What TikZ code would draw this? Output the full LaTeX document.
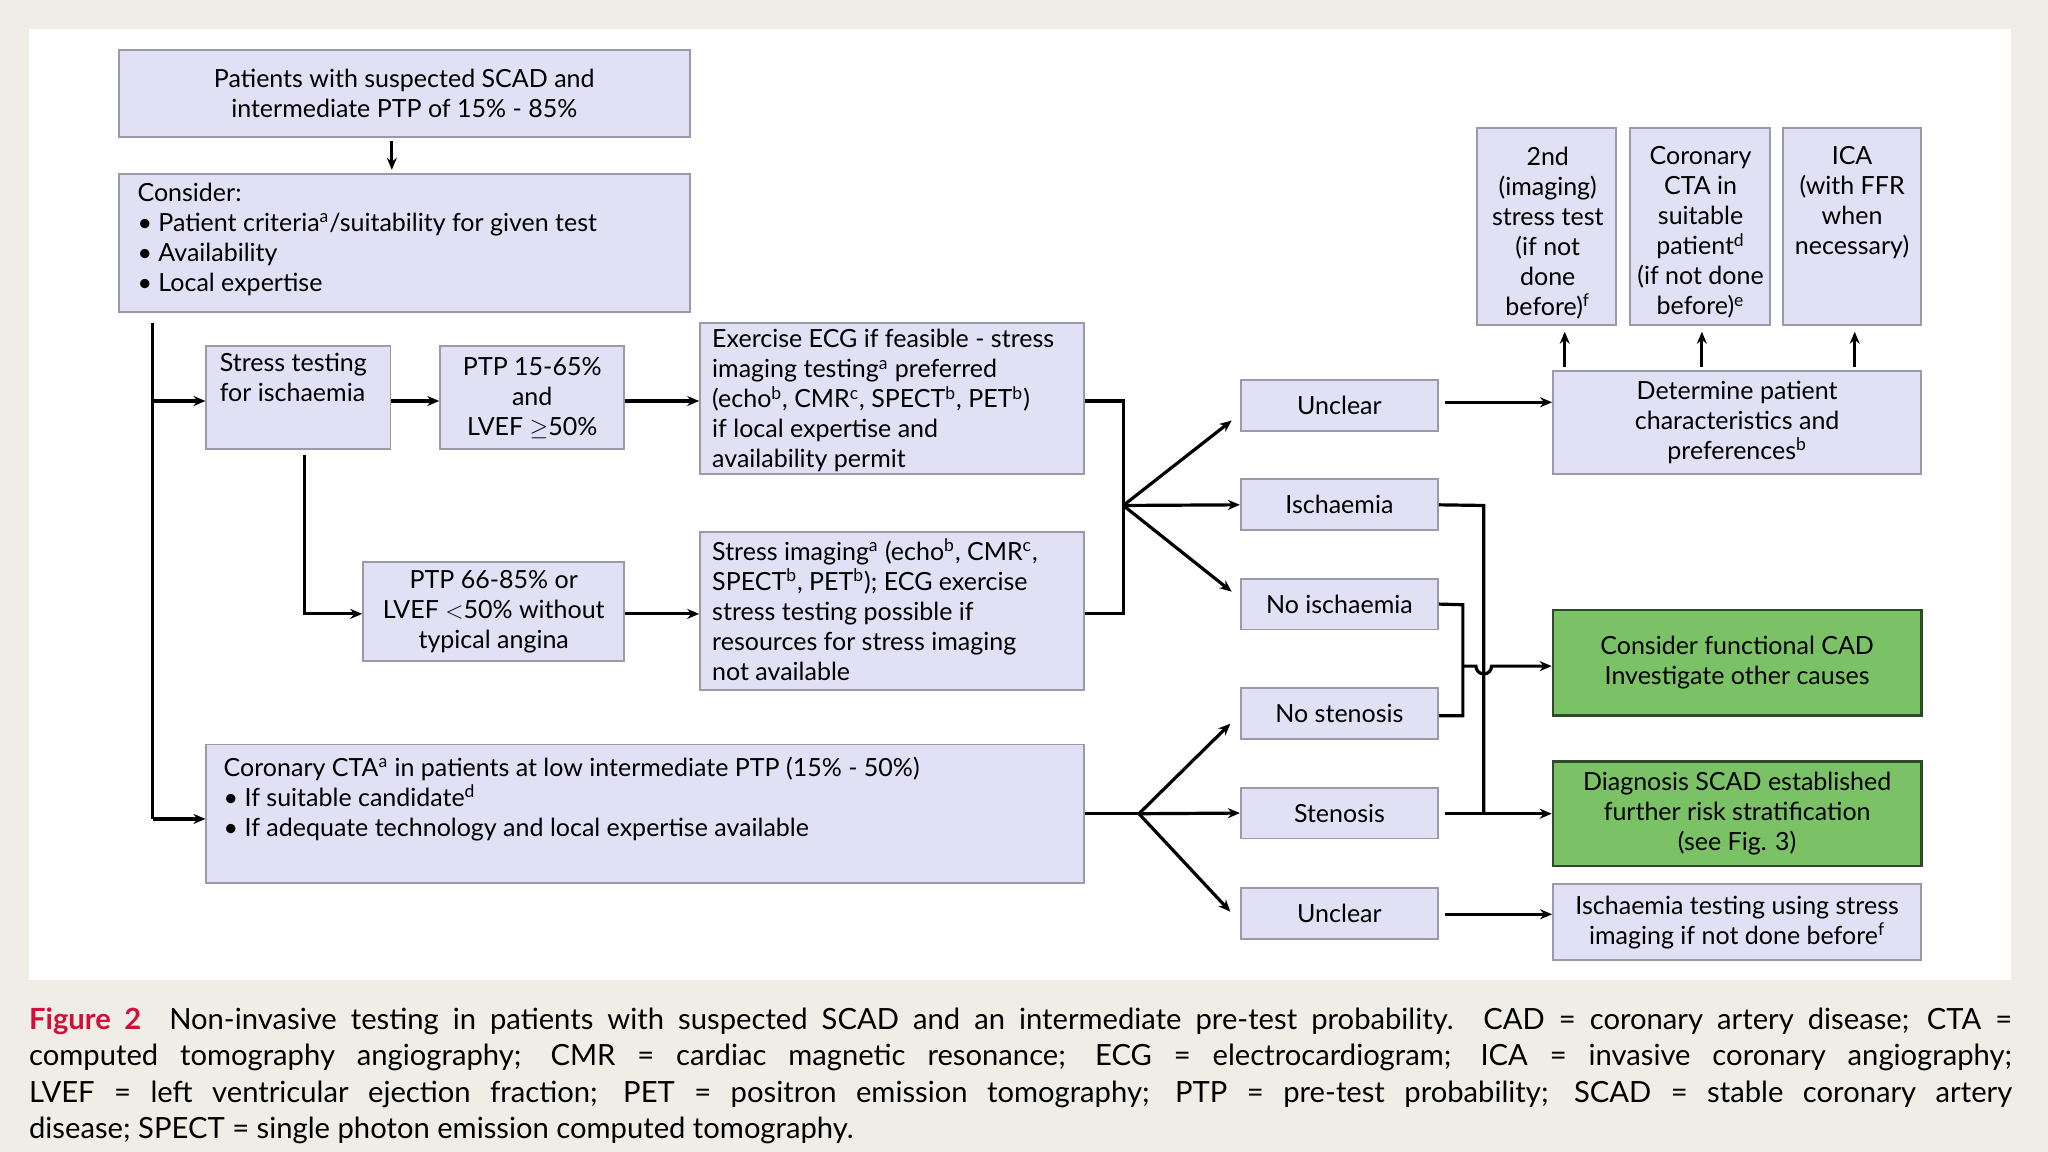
\documentclass[tikz,border=0pt]{standalone}
\usepackage{fontspec}
\setmainfont{Lato}
\usetikzlibrary{fit,arrows.meta}
\definecolor{bg}{HTML}{F0EDE6}
\definecolor{lav}{HTML}{E2E0F4}
\definecolor{lavb}{HTML}{9C9AAA}
\definecolor{grn}{HTML}{7BC267}
\definecolor{grnb}{HTML}{2E4A2A}
\definecolor{fig}{HTML}{D0103A}
\begin{document}
\begin{tikzpicture}[x=0.6531pt,y=-0.6531pt,
  box/.style={draw=lavb,fill=lav,line width=0.9pt,inner sep=0pt},
  gbox/.style={box,draw=grnb,fill=grn,line width=1.3pt},
  txt/.style={inner sep=0pt,align=left,font=\fontsize{12.5}{15}\selectfont},
  ctxt/.style={txt,align=center},
  ar/.style={line width=1.6pt,-{Stealth[length=6pt,width=5pt]}},
  ln/.style={line width=1.6pt}]
\useasboundingbox (0,0) rectangle (1568,882);
\fill[bg] (0,0) rectangle (1568,882);
\fill[white] (22,22) rectangle (1540,750);
% left column
\node[box,fit={(91,38)(528,105)}] (p) {};
\node[ctxt] (pt) at (p.center) {Patients with suspected SCAD and\\intermediate PTP of 15\% - 85\%};
\node[box,fit={(91,133)(528,239)}] (c) {};
\node[txt,anchor=north west] (ct) at (105,140) {Consider:\\\textbullet\ Patient criteria\textsuperscript{a}/suitability for given test\\\textbullet\ Availability\\\textbullet\ Local expertise};
\draw[ar] (300,108) -- (300,130);
\node[box,fit={(158,265)(299,344)}] (st) {};
\node[txt,anchor=north west] (stt) at (168,270) {Stress testing\\for ischaemia};
\node[box,fit={(337,265)(478,344)}] (p1) {};
\node[ctxt] (p1t) at (p1.center) {PTP 15-65\%\\and\\LVEF $\geq$50\%};
\node[box,fit={(536,247)(830,363)}] (ex) {};
\node[txt,anchor=north west] (ext) at (545,252) {Exercise ECG if feasible - stress\\imaging testing\textsuperscript{a} preferred\\(echo\textsuperscript{b}, CMR\textsuperscript{c}, SPECT\textsuperscript{b}, PET\textsuperscript{b})\\if local expertise and\\availability permit};
\node[box,fit={(278,430)(478,506)}] (p2) {};
\node[ctxt] (p2t) at (p2.center) {PTP 66-85\% or\\LVEF $<$50\% without\\typical angina};
\node[box,fit={(536,407)(830,528)}] (si) {};
\node[txt,anchor=north west] (sit) at (545,412) {Stress imaging\textsuperscript{a} (echo\textsuperscript{b}, CMR\textsuperscript{c},\\SPECT\textsuperscript{b}, PET\textsuperscript{b}); ECG exercise\\stress testing possible if\\resources for stress imaging\\not available};
\node[box,fit={(158,570)(830,676)}] (cta) {};
\node[txt,anchor=north west] (ctat) at (171,579) {Coronary CTA\textsuperscript{a} in patients at low intermediate PTP (15\% - 50\%)\\\textbullet\ If suitable candidate\textsuperscript{d}\\\textbullet\ If adequate technology and local expertise available};
\coordinate (lt) at (117,247);
\draw[ln] (lt) -- (117,627);
\draw[ar] (117,307) -- (st.west|-0,307);
\draw[ar] (117,627) -- (cta.west|-0,627);
\draw[ar] (st.east|-0,307) -- (p1.west|-0,307);
\draw[ar] (p1.east|-0,307) -- (ex.west|-0,307);
\draw[ar] (233,348) -- (233,470) -- (p2.west|-0,470);
\draw[ar] (p2.east|-0,470) -- (si.west|-0,470);
% middle column
\foreach \n/\y/\t in {u1/291/Unclear,is/367/Ischaemia,ni/443/No ischaemia,ns/527/No stenosis,sn/603/Stenosis,u2/680/Unclear}{
  \node[box,fit={(950,\y)(1101,\y+39)}] (\n) {};
  \node[ctxt] (\n t) at (\n.center) {\t};
}
\coordinate (b1) at (860,387);
\coordinate (b2) at (872,623);
\draw[ln] (ex.east|-0,307) -- (860,307) -- (860,470) -- (si.east|-0,470);
\draw[ar] (b1) -- (943,322);
\draw[ar] (b1) -- (is.west);
\draw[ar] (b1) -- (943,453);
\draw[ln] (cta.east|-0,623) -- (b2);
\draw[ar] (b2) -- (942,554);
\draw[ar] (b2) -- (sn.west);
\draw[ar] (b2) -- (942,698);
% right column
\node[box,fit={(1189,284)(1471,363)}] (dp) {};
\node[ctxt] (dpt) at (dp.center) {Determine patient\\characteristics and\\preferences\textsuperscript{b}};
\node[gbox,fit={(1189,467)(1471,548)}] (cf) {};
\node[ctxt] (cft) at (cf.center) {Consider functional CAD\\Investigate other causes};
\node[gbox,fit={(1189,583)(1471,663)}] (dg) {};
\node[ctxt] (dgt) at (dg.center) {Diagnosis SCAD established\\further risk stratification\\(see Fig. 3)};
\node[box,fit={(1189,677)(1471,735)}] (it) {};
\node[ctxt] (itt) at (it.center) {Ischaemia testing using stress\\imaging if not done before\textsuperscript{f}};
\node[box,fit={(1131,98)(1237,249)}] (t1) {};
\node[box,fit={(1248,98)(1355,249)}] (t2) {};
\node[box,fit={(1365,98)(1471,249)}] (t3) {};
\node[ctxt,anchor=north] (t1t) at (1185,112) {2nd\\(imaging)\\stress test\\(if not\\done\\before)\textsuperscript{f}};
\node[ctxt,anchor=north] (t2t) at (1302,112) {Coronary\\CTA in\\suitable\\patient\textsuperscript{d}\\(if not done\\before)\textsuperscript{e}};
\node[ctxt,anchor=north] (t3t) at (1418,112) {ICA\\(with FFR\\when\\necessary)};
\draw[ar] (1198,281) -- (1198,254);
\draw[ar] (1303,281) -- (1303,254);
\draw[ar] (1420,281) -- (1420,254);
\draw[ar] (1106,308) -- (dp.west|-0,308);
\draw[ar] (1106,700) -- (it.west|-0,700);
\draw[ln] (is.east) -- (1136,387) -- (1136,623);
\draw[ar] (1106,623) -- (dg.west|-0,623);
\draw[ln] (ni.east) -- (1120,463) -- (1120,548) -- (ns.east|-0,548);
\draw[ar] (1120,510) -- (1130,510) arc[start angle=180,end angle=0,radius=6] -- (cf.west|-0,510);
% caption
\node[inner sep=0pt,anchor=north west,text width=1518*0.6531pt,align=justify,font=\fontsize{14.6}{18.3}\selectfont] (cap) at (22,771)
{{\color{fig}\bfseries Figure 2}\ \ Non-invasive testing in patients with suspected SCAD and an intermediate pre-test probability. CAD = coronary artery disease; CTA =\linebreak computed tomography angiography; CMR = cardiac magnetic resonance; ECG = electrocardiogram; ICA = invasive coronary angiography;\linebreak LVEF = left ventricular ejection fraction; PET = positron emission tomography; PTP = pre-test probability; SCAD = stable coronary artery\linebreak disease; SPECT = single photon emission computed tomography.};
\end{tikzpicture}
\end{document}
